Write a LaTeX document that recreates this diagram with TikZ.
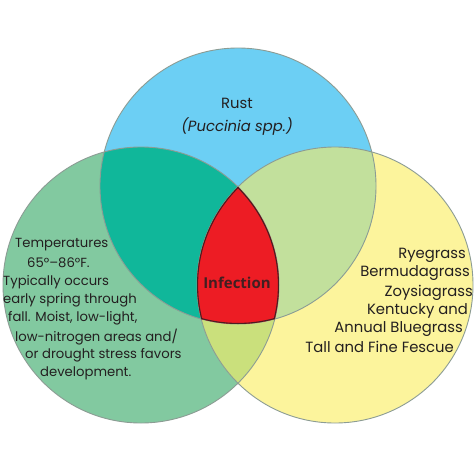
\documentclass[tikz,border=0pt]{standalone}
\usepackage{fontspec}
\setmainfont{Poppins}
\newfontfamily\boldfont{Open Sans}
\usepackage{xcolor}
\usetikzlibrary{positioning}
\definecolor{rustblue}{RGB}{108,207,244}
\definecolor{envgreen}{RGB}{130,201,160}
\definecolor{hostyellow}{RGB}{252,244,156}
\definecolor{tealmix}{RGB}{16,183,154}
\definecolor{limemix}{RGB}{194,224,156}
\definecolor{olivemix}{RGB}{202,224,124}
\definecolor{infred}{RGB}{237,28,36}
\definecolor{rimgray}{RGB}{140,156,148}
\definecolor{inkdark}{RGB}{35,31,32}
\tikzset{
  rim/.style={draw=rimgray, line width=0.9pt},
  redrim/.style={draw=inkdark!80!infred, line width=2.2pt},
  label/.style={font=\fontsize{14.8}{16}\selectfont, text=inkdark, inner sep=0pt},
  leftline/.style={label, font=\fontsize{13.2}{15}\selectfont, anchor=west},
  rightline/.style={label, anchor=east}
}
\newcommand{\rad}{138}
\begin{document}
\begin{tikzpicture}[x=1pt, y=-1pt]
  \useasboundingbox (0,0) rectangle (474,474);
  \fill[white] (0,0) rectangle (474,474);
  \coordinate (rust) at (238,186);
  \coordinate (env) at (141,285);
  \coordinate (host) at (335,285);

  % base circles
  \fill[envgreen] (env) circle (\rad);
  \fill[hostyellow] (host) circle (\rad);
  \fill[rustblue] (rust) circle (\rad);

  % overlaps
  \begin{scope}
    \clip (rust) circle (\rad);
    \fill[tealmix] (env) circle (\rad);
    \fill[limemix] (host) circle (\rad);
  \end{scope}
  \begin{scope}
    \clip (env) circle (\rad);
    \fill[olivemix] (host) circle (\rad);
  \end{scope}

  \draw[rim] (env) circle (\rad);
  \draw[rim] (host) circle (\rad);
  \draw[rim] (rust) circle (\rad);

  % infection area
  \begin{scope}
    \clip (rust) circle (\rad);
    \clip (env) circle (\rad);
    \clip (host) circle (\rad);
    \fill[infred] (host) circle (\rad);
    \draw[redrim] (rust) circle (\rad);
    \draw[redrim] (env) circle (\rad);
    \draw[redrim] (host) circle (\rad);
  \end{scope}

  \node[label] (rustname) at (237,103) {Rust};
  \node[label, below=9pt of rustname] (rustsp) {\itshape(Puccinia spp.)};

  \node[label, font=\boldfont\bfseries\fontsize{15}{16}\selectfont, text=inkdark!85!infred] (infection) at (237,283) {Infection};

  % environment text
  \node[leftline] (env1) at (15,245) {Temperatures};
  \node[leftline] (env2) at (27,263) {65°–86°F.};
  \node[leftline] (env3) at (3,282) {Typically occurs};
  \node[leftline] (env4) at (3,300) {early spring through};
  \node[leftline] (env5) at (8,318) {fall. Moist, low-light,};
  \node[leftline] (env6) at (15,337) {low-nitrogen areas and/};
  \node[leftline] (env7) at (25,355) {or drought stress favors};
  \node[leftline] (env8) at (40,373) {development.};

  % host text
  \node[rightline] (host1) at (466,255) {Ryegrass};
  \node[rightline] (host2) at (470,273) {Bermudagrass};
  \node[rightline] (host3) at (473,293) {Zoysiagrass};
  \node[rightline] (host4) at (468,311) {Kentucky and};
  \node[rightline] (host5) at (463,329) {Annual Bluegrass};
  \node[rightline] (host6) at (454,347) {Tall and Fine Fescue};
\end{tikzpicture}
\end{document}
